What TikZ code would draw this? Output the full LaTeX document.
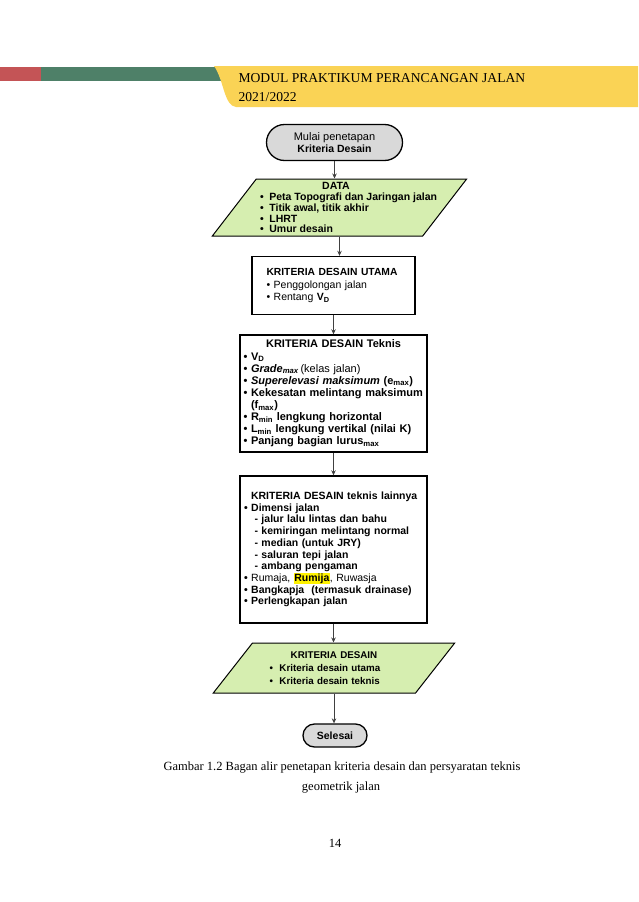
\documentclass[tikz,border=0pt]{standalone}
\usepackage{fontspec}
\setmainfont{Liberation Serif}
\newfontfamily\arialfont{Liberation Sans}
\usetikzlibrary{shapes.geometric,shapes.misc,arrows.meta}
\definecolor{boxgreen}{RGB}{214,238,176}
\definecolor{termgray}{RGB}{217,217,217}
\definecolor{headyellow}{RGB}{250,211,85}
\definecolor{headgreen}{RGB}{78,128,104}
\definecolor{headred}{RGB}{196,84,86}
\newcommand{\fsz}[2]{\fontsize{#1}{#2}\selectfont}
\newcommand{\midline}[1]{\hfill#1\hfill\mbox{}}
\hbadness=10000 \hfuzz=100pt
\begin{document}
\begin{tikzpicture}
[x=1pt,y=-1pt,
  termdecorate/.style={shape=rounded rectangle,draw,line width=1.3pt,fill=termgray,align=center,inner sep=0pt},%
  boxdecorate/.style={shape=rectangle,draw,line width=1.4pt,fill=white,inner sep=4pt},%
  datadecorate/.style={shape=trapezium,trapezium stretches=true,draw,line width=1pt,fill=boxgreen,inner sep=0pt},%
  linedecorate/.style={-{Stealth[length=5pt,width=4.5pt]},line width=0.9pt,draw=black!75}]
\useasboundingbox (0,0) rectangle (638,902);
%% header band
\fill[headred] (0,67) rectangle (41,81);
\fill[headgreen] (41,67) rectangle (225,81);
\fill[headyellow] (214,66) -- (638,66) -- (638,107) -- (236,107)
  .. controls (224,106) and (224,80) .. (214,66) -- cycle;
\node[anchor=base west,font=\fsz{13.6}{15}] (headtitle) at (235,82) {MODUL PRAKTIKUM PERANCANGAN JALAN};
\node[anchor=base west,font=\fsz{13.6}{15}] (headyear) at (235,101) {2021/2022};
%% nodes or vertices
\node (start) at (334.5,142.5) [termdecorate,minimum width=136,minimum height=36,font=\arialfont\fsz{11}{12}]
  {Mulai penetapan\\\fsz{10.5}{12}\bfseries Kriteria Desain};
\node (data) at (339.5,207.5) [datadecorate,trapezium left angle=50,trapezium right angle=130,
  minimum width=255,minimum height=57,text width=159,font=\arialfont\bfseries\fsz{8.6}{9.7}]
  {\noindent\hspace*{-7pt}\midline{\fsz{10.5}{11}DATA}\\
   \mbox{\textbullet\ \ Peta Topografi dan Jaringan jalan}\\
   \mbox{\textbullet\ \ Titik awal, titik akhir}\\
   \mbox{\textbullet\ \ LHRT}\\
   \mbox{\textbullet\ \ Umur desain}};
\node (utama) at (333.5,285.5) [boxdecorate,minimum width=163,minimum height=58,text width=134,
  font=\arialfont\fsz{10.5}{12.5}]
  {\noindent{\fsz{10.3}{12.5}\bfseries KRITERIA DESAIN UTAMA}\\
   \textbullet\ Penggolongan jalan\\
   \textbullet\ Rentang \textbf{V\textsubscript{D}}};
\node (teknis) at (333.5,393.5) [boxdecorate,minimum width=187,minimum height=117,text width=180,inner sep=3pt,
  font=\arialfont\bfseries\fsz{11}{12.1}]
  {\noindent\midline{KRITERIA DESAIN Teknis}\\
   \textbullet\ V\textsubscript{D}\\
   \textbullet\ \textit{Grade\textsubscript{max}}\,{\mdseries(kelas jalan)}\\
   \textbullet\ \textit{Superelevasi maksimum} (e\textsubscript{max})\\
   \textbullet\ Kekesatan melintang maksimum\\
   \phantom{\textbullet\ }(f\textsubscript{max})\\
   \textbullet\ R\textsubscript{min} lengkung horizontal\\
   \textbullet\ L\textsubscript{min} lengkung vertikal (nilai K)\\
   \textbullet\ Panjang bagian lurus\textsubscript{max}};
\node (lainnya) at (333.5,549.5) [boxdecorate,minimum width=187,minimum height=147,text width=179,
  font=\arialfont\bfseries\fsz{10.5}{11.7}]
  {\noindent\hspace*{7pt}KRITERIA DESAIN teknis lainnya\\
   \textbullet\ Dimensi jalan\\
   \ \ \ - jalur lalu lintas dan bahu\\
   \ \ \ - kemiringan melintang normal\\
   \ \ \ - median (untuk JRY)\\
   \ \ \ - saluran tepi jalan\\
   \ \ \ - ambang pengaman\\
   \textbullet\ {\mdseries Rumaja, {\setlength{\fboxsep}{0.6pt}\colorbox{yellow}{\bfseries Rumija}}, Ruwasja}\\
   \textbullet\ Bangkapja\ \ (termasuk drainase)\\
   \textbullet\ Perlengkapan jalan};
\node (hasil) at (334,668) [datadecorate,trapezium left angle=44,trapezium right angle=136,
  minimum width=242,minimum height=50,text width=142,font=\arialfont\bfseries\fsz{9.8}{13}]
  {\noindent\midline{KRITERIA DESAIN}\\
   \ \ \textbullet\ \ Kriteria desain utama\\
   \ \ \textbullet\ \ Kriteria desain teknis};
\node (selesai) at (335,735.5) [termdecorate,minimum width=64,minimum height=23,font=\arialfont\bfseries\fsz{10.5}{11}]
  {Selesai};
%% caption and page number
\node[font=\fsz{12.5}{14}] (caption) at (342,768) {Gambar 1.2 Bagan alir penetapan kriteria desain dan persyaratan teknis};
\node[font=\fsz{12.5}{14}] (caption2) at (341,788) {geometrik jalan};
\node[font=\fsz{12.5}{14}] (pagenum) at (335,843) {14};
%% edges or lines
\foreach \startnode/\endnode in {start/data, data/utama, utama/teknis, teknis/lainnya, lainnya/hasil, hasil/selesai} {
  \draw[linedecorate] (\startnode.south) -- (\startnode.south |- \endnode.north);
}
\end{tikzpicture}
\end{document}
